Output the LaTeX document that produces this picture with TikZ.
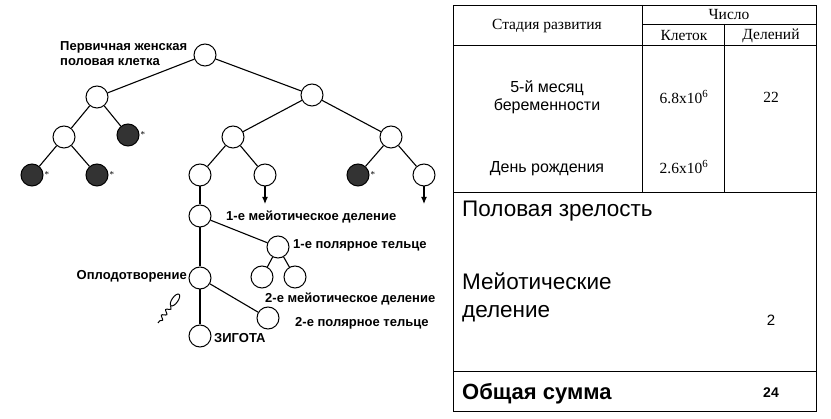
\documentclass[tikz,border=0pt]{standalone}
\usepackage{fontspec}
\setmainfont{Liberation Serif}
\setsansfont{Liberation Sans}
\usetikzlibrary{arrows.meta,shapes.geometric,decorations.pathmorphing}
\begin{document}
\begin{tikzpicture}[x=1pt,y=-1pt,
  cell/.style={circle,draw,line width=1pt,minimum size=22pt,inner sep=0pt,fill=white},
  dark/.style={cell,fill=black!80},
  lbl/.style={font=\sffamily\bfseries\fontsize{13}{15}\selectfont,inner sep=0pt},
  ln/.style={line width=1.1pt},
  tl/.style={line width=0.9pt},
  ser/.style={font=\fontsize{15.5}{18}\selectfont,inner sep=0pt},
  sans/.style={font=\sffamily\fontsize{16}{18}\selectfont,inner sep=0pt,align=center},
  big/.style={font=\sffamily\fontsize{22.5}{28}\selectfont,inner sep=0pt,align=left}]
\useasboundingbox (0,0) rectangle (831,419);
% tree nodes
\node[cell] (r) at (205,55) {};
\node[cell] (l1) at (97,97) {};
\node[cell] (r1) at (312,95) {};
\node[cell] (ll) at (64,137) {};
\node[dark] (lr) at (128,135) {};
\node[dark] (lll) at (32,175) {};
\node[dark] (llr) at (97,175) {};
\node[cell] (rl) at (233,137) {};
\node[cell] (rr) at (391,137) {};
\node[cell] (rll) at (200,175) {};
\node[cell] (rlr) at (265,175) {};
\node[dark] (rrl) at (358,175) {};
\node[cell] (rrr) at (424,175) {};
\node[cell] (m1) at (200,216) {};
\node[cell] (p1) at (278,247) {};
\node[cell] (p1a) at (262,277) {};
\node[cell] (p1b) at (295,277) {};
\node[cell] (f) at (200,278) {};
\node[cell] (p2) at (268,318) {};
\node[cell] (z) at (200,336) {};
\coordinate (a1) at (265,204);
\coordinate (a2) at (424,204);
\foreach \a/\b in {r/l1,r/r1,l1/ll,l1/lr,ll/lll,ll/llr,r1/rl,r1/rr,rl/rll,rl/rlr,rr/rrl,rr/rrr,rll/m1,m1/p1,p1/p1a,p1/p1b,m1/f,f/p2,f/z}
  \draw[ln] (\a) -- (\b);
\draw[ln,-{Latex[length=7pt,width=6pt]}] (rlr) -- (a1);
\draw[ln,-{Latex[length=7pt,width=6pt]}] (rrr) -- (a2);
\foreach \n in {lr,lll,llr,rrl} \node[font=\small,anchor=west,inner sep=1pt] at (\n.east) {*};
% sperm
\node[draw,ellipse,line width=1pt,minimum width=6pt,minimum height=14pt,inner sep=0pt,rotate=-35] (sp) at (175,300) {};
\coordinate (spt) at (158,323);
\draw[line width=1pt,decorate,decoration={snake,amplitude=2pt,segment length=7pt}] (sp.south) -- (spt);
% tree labels
\node[lbl,align=left,anchor=west] (t0) at (60,54) {Первичная женская\\половая клетка};
\node[lbl,anchor=west] (t1) at (226,217) {1-е мейотическое деление};
\node[lbl,anchor=west] (t2) at (293,245) {1-е полярное тельце};
\node[lbl,anchor=east] (t3) at (187,276) {Оплодотворение};
\node[lbl,anchor=west] (t4) at (265,299) {2-е мейотическое деление};
\node[lbl,anchor=west] (t5) at (295,323) {2-е полярное тельце};
\node[lbl,anchor=west] (t6) at (214,338) {ЗИГОТА};
% table
\draw[tl] (453,5) rectangle (816,411);
\draw[tl] (453,45) -- (816,45);
\draw[tl] (642,24) -- (816,24);
\draw[tl] (642,5) -- (642,192);
\draw[tl] (724,24) -- (724,192);
\draw[tl] (453,192) -- (816,192);
\draw[tl] (453,371) -- (816,371);
\node[ser] (h1) at (547,26) {Стадия развития};
\node[ser] (h2) at (729,15) {Число};
\node[ser] (h3) at (684,36) {Клеток};
\node[ser] (h4) at (771,36) {Делений};
\node[sans] (s1) at (547,97) {5-й месяц\\беременности};
\node[ser] (c1) at (684,97) {6.8x10\textsuperscript{6}};
\node[ser] (d1) at (771,97) {22};
\node[sans] (s2) at (547,169) {День рождения};
\node[ser] (c2) at (684,167) {2.6x10\textsuperscript{6}};
\node[big,anchor=west] (b1) at (462,211) {Половая зрелость};
\node[big,anchor=west] (b2) at (462,297) {Мейотические\\деление};
\node[font=\sffamily\fontsize{15}{18}\selectfont] (d2) at (771,320) {2};
\node[font=\sffamily\bfseries\fontsize{22}{26}\selectfont,anchor=west,inner sep=0pt] (b3) at (462,394) {Общая сумма};
\node[font=\sffamily\bfseries\fontsize{14}{16}\selectfont] (d3) at (771,393) {24};
\end{tikzpicture}
\end{document}
